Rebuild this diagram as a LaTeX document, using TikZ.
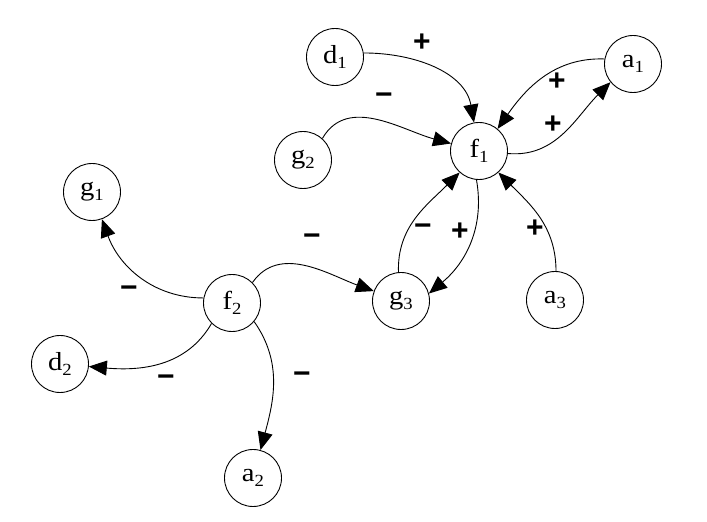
\documentclass[tikz,border=0pt]{standalone}
\usepackage{fontspec}
\setmainfont{Liberation Serif}[FakeStretch=1.1]
\newfontfamily\signfont{Liberation Sans}
\usetikzlibrary{arrows.meta}
\newcommand\lowsub[1]{\raisebox{-5pt}{\fontsize{17}{18}\selectfont #1}}
\tikzset{
  var/.style={circle, draw, line width=0.9pt, minimum size=57pt, inner sep=0pt, font=\fontsize{26}{27}\selectfont},
  edge/.style={line width=0.9pt, -{Triangle[length=18pt,width=15pt]}},
  sign/.style={font=\signfont\bfseries\fontsize{30}{31}\selectfont, inner sep=0pt}
}
\begin{document}
\begin{tikzpicture}[x=1pt,y=1pt]
\useasboundingbox (0,0) rectangle (707,522);
\node[var] (d1) at (335,465) {d\lowsub{1}};
\node[var] (a1) at (633,458) {a\lowsub{1}};
\node[var] (g2) at (303,362) {g\lowsub{2}};
\node[var] (f1) at (479,371) {f\lowsub{1}};
\node[var] (g1) at (92,330) {g\lowsub{1}};
\node[var] (f2) at (232,219) {f\lowsub{2}};
\node[var] (g3) at (401,221) {g\lowsub{3}};
\node[var] (a3) at (555,222) {a\lowsub{3}};
\node[var] (d2) at (60,158) {d\lowsub{2}};
\node[var] (a2) at (253,44) {a\lowsub{2}};

\draw[edge] (d1.8) to[out=0,in=100] (f1.100);
\draw[edge] (g2.48) to[out=60,in=165] (f1.165);
\draw[edge] (a1.170) to[out=178,in=55] (f1.50);
\draw[edge] (f1.-5) to[out=-5,in=225] (a1.219);
\draw[edge] (g3.95) to[out=92,in=225] (f1.228);
\draw[edge] (f1.265) to[out=-80,in=40] (g3.15);
\draw[edge] (a3.88) to[out=90,in=-45] (f1.-48);
\draw[edge] (f2.45) to[out=55,in=160] (g3.160);
\draw[edge] (f2.170) to[out=180,in=-70] (g1.-70);
\draw[edge] (f2.225) to[out=240,in=-5] (d2.-5);
\draw[edge] (f2.-40) to[out=-55,in=75] (a2.75);

\node[sign] (s1) at (422,479) {+};
\node[sign] (s2) at (384,423) {−};
\node[sign] (s3) at (557,440) {+};
\node[sign] (s4) at (553,397) {+};
\node[sign] (s5) at (423,292) {−};
\node[sign] (s6) at (460,290) {+};
\node[sign] (s7) at (535,293) {+};
\node[sign] (s8) at (312,282) {−};
\node[sign] (s9) at (129,230) {−};
\node[sign] (s10) at (166,141) {−};
\node[sign] (s11) at (302,144) {−};
\end{tikzpicture}
\end{document}
